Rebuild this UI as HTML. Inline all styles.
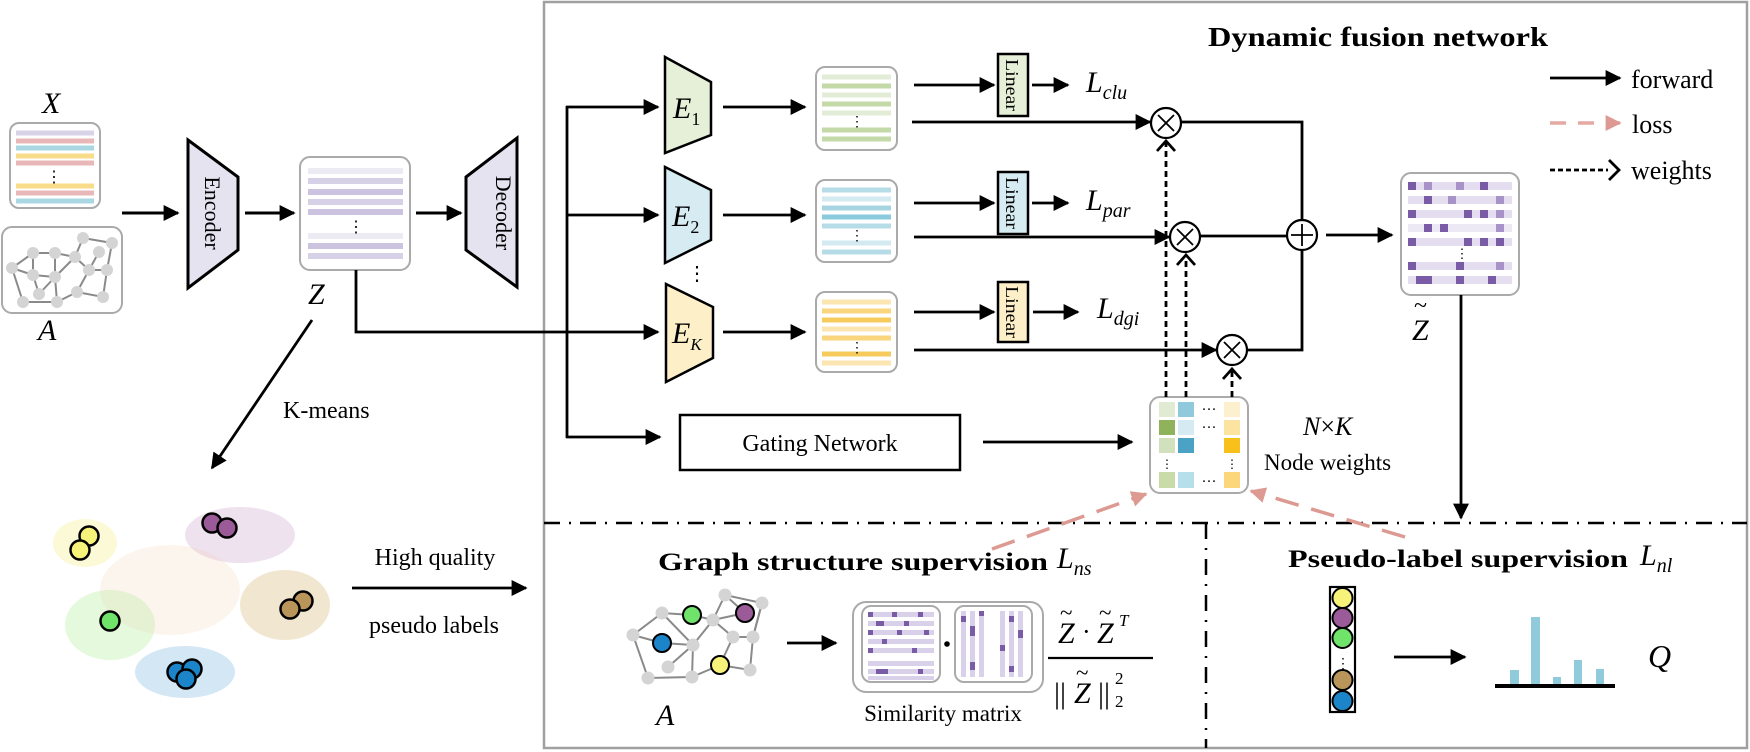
<!DOCTYPE html>
<html><head><meta charset="utf-8"><style>
html,body{margin:0;padding:0;background:#fff;}
svg{display:block;font-family:"Liberation Serif",serif;}
.it{font-style:italic;}
</style></head><body>
<svg width="1750" height="752" viewBox="0 0 1750 752" xmlns="http://www.w3.org/2000/svg">
<defs>
<marker id="a" viewBox="0 0 10 10" refX="9" refY="5" markerWidth="18" markerHeight="16" orient="auto" markerUnits="userSpaceOnUse"><path d="M0,0 L10,5 L0,10 z" fill="#000"/></marker>
<marker id="ap" viewBox="0 0 10 10" refX="9" refY="5" markerWidth="18" markerHeight="16" orient="auto" markerUnits="userSpaceOnUse"><path d="M0,0 L10,5 L0,10 z" fill="#dd9a93"/></marker>
</defs>

<rect x="544" y="2" width="1203" height="746" fill="none" stroke="#a0a0a0" stroke-width="2.5"/>
<line x1="544" y1="523" x2="1747" y2="523" stroke="#000" stroke-width="2.5" stroke-dasharray="16,9,2,9"/>
<line x1="1206" y1="523" x2="1206" y2="748" stroke="#000" stroke-width="2.5" stroke-dasharray="16,9,2,9"/>

<text x="42" y="113" font-size="30" class="it">X</text>
<rect x="10" y="123" width="90" height="85" rx="9" fill="#fff" stroke="#aaa" stroke-width="2"/>
<g stroke-width="5">
<line x1="16" y1="133" x2="94" y2="133" stroke="#d9d3e8"/>
<line x1="16" y1="141" x2="94" y2="141" stroke="#e8b8b8"/>
<line x1="16" y1="148" x2="94" y2="148" stroke="#a9d8e3"/>
<line x1="16" y1="156" x2="94" y2="156" stroke="#f9dc8a"/>
<line x1="16" y1="163" x2="94" y2="163" stroke="#e8b8b8"/>
<line x1="16" y1="186" x2="94" y2="186" stroke="#f9dc8a"/>
<line x1="16" y1="193" x2="94" y2="193" stroke="#e8b8b8"/>
<line x1="16" y1="201" x2="94" y2="201" stroke="#a9d8e3"/>
</g>
<text x="54" y="182" font-size="16" text-anchor="middle">⋮</text>

<rect x="2" y="227" width="120" height="86" rx="10" fill="#fff" stroke="#aaa" stroke-width="2"/>
<g stroke="#8a8a8a" stroke-width="2" fill="none">
<polyline points="12,268 33,253 55,253 75,257 83,238 112,243 107,270 103,297 77,292 57,302 23,302 12,268"/>
<line x1="33" y1="253" x2="33" y2="275"/><line x1="33" y1="275" x2="55" y2="277"/><line x1="55" y1="253" x2="55" y2="277"/>
<line x1="12" y1="268" x2="33" y2="275"/><line x1="75" y1="257" x2="55" y2="277"/><line x1="75" y1="257" x2="89" y2="270"/>
<line x1="89" y1="270" x2="107" y2="270"/><line x1="89" y1="270" x2="77" y2="292"/><line x1="55" y1="277" x2="39" y2="294"/>
<line x1="55" y1="277" x2="57" y2="302"/><line x1="99" y1="252" x2="89" y2="270"/><line x1="33" y1="275" x2="39" y2="294"/>
</g>
<g fill="#d4d4d4">
<circle cx="12" cy="268" r="6"/><circle cx="33" cy="253" r="6"/><circle cx="55" cy="253" r="6"/><circle cx="75" cy="257" r="6"/><circle cx="83" cy="238" r="6"/><circle cx="112" cy="243" r="6"/><circle cx="99" cy="252" r="6"/><circle cx="107" cy="270" r="6"/><circle cx="103" cy="297" r="6"/><circle cx="77" cy="292" r="6"/><circle cx="57" cy="302" r="6"/><circle cx="23" cy="302" r="6"/><circle cx="33" cy="275" r="6"/><circle cx="55" cy="277" r="6"/><circle cx="89" cy="270" r="6"/><circle cx="39" cy="294" r="6"/>
</g>
<text x="38" y="340" font-size="30" class="it">A</text>

<line x1="122" y1="213" x2="178" y2="213" stroke="#000" stroke-width="3" marker-end="url(#a)"/>
<polygon points="188,140 238,177 238,250 188,288" fill="#e6e3f1" stroke="#000" stroke-width="3"/>
<text transform="translate(205,213) rotate(90)" font-size="22" text-anchor="middle">Encoder</text>
<line x1="245" y1="213" x2="294" y2="213" stroke="#000" stroke-width="3" marker-end="url(#a)"/>
<rect x="300" y="157" width="110" height="113" rx="10" fill="#fff" stroke="#aaa" stroke-width="2"/>
<g stroke-width="6">
<line x1="308" y1="171" x2="403" y2="171" stroke="#ecebf3"/>
<line x1="308" y1="181" x2="403" y2="181" stroke="#d6d1e6"/>
<line x1="308" y1="192" x2="403" y2="192" stroke="#cbc3df"/>
<line x1="308" y1="202" x2="403" y2="202" stroke="#d6d1e6"/>
<line x1="308" y1="212" x2="403" y2="212" stroke="#cbc3df"/>
<line x1="308" y1="236" x2="403" y2="236" stroke="#ecebf3"/>
<line x1="308" y1="246" x2="403" y2="246" stroke="#cbc3df"/>
<line x1="308" y1="256" x2="403" y2="256" stroke="#d6d1e6"/>
</g>
<text x="356" y="232" font-size="16" text-anchor="middle">⋮</text>
<text x="308" y="304" font-size="30" class="it">Z</text>
<line x1="416" y1="213" x2="461" y2="213" stroke="#000" stroke-width="3" marker-end="url(#a)"/>
<polygon points="466,177 517,138 517,287 466,250" fill="#e6e3f1" stroke="#000" stroke-width="3"/>
<text transform="translate(496,213) rotate(90)" font-size="22" text-anchor="middle">Decoder</text>

<polyline points="356,270 356,332 658,332" fill="none" stroke="#000" stroke-width="2.8" marker-end="url(#a)"/>
<line x1="567" y1="106" x2="567" y2="438" stroke="#000" stroke-width="2.8"/>
<line x1="566" y1="107" x2="658" y2="107" stroke="#000" stroke-width="2.8" marker-end="url(#a)"/>
<line x1="567" y1="215" x2="658" y2="215" stroke="#000" stroke-width="2.8" marker-end="url(#a)"/>
<line x1="566" y1="437" x2="660" y2="437" stroke="#000" stroke-width="2.8" marker-end="url(#a)"/>

<polygon points="665,57 711,82 711,135 665,153" fill="#e6efd8" stroke="#000" stroke-width="2.5"/>
<text x="673" y="118" font-size="30" class="it">E<tspan font-size="18" dy="7" font-style="normal">1</tspan></text>
<polygon points="665,167 711,190 711,240 665,263" fill="#d7ebf3" stroke="#000" stroke-width="2.5"/>
<text x="672" y="226" font-size="30" class="it">E<tspan font-size="18" dy="7" font-style="normal">2</tspan></text>
<text x="697" y="280" font-size="20" text-anchor="middle">⋮</text>
<polygon points="666,284 713,307 713,358 666,382" fill="#fdf0c8" stroke="#000" stroke-width="2.5"/>
<text x="672" y="343" font-size="30" class="it">E<tspan font-size="17" dy="7">K</tspan></text>

<line x1="723" y1="107" x2="805" y2="107" stroke="#000" stroke-width="2.8" marker-end="url(#a)"/>
<line x1="723" y1="215" x2="805" y2="215" stroke="#000" stroke-width="2.8" marker-end="url(#a)"/>
<line x1="723" y1="332" x2="805" y2="332" stroke="#000" stroke-width="2.8" marker-end="url(#a)"/>

<rect x="816" y="67" width="81" height="83" rx="9" fill="#fff" stroke="#aaa" stroke-width="2"/>
<g stroke-width="5">
<line x1="822" y1="77" x2="891" y2="77" stroke="#e3ecd7"/><line x1="822" y1="86" x2="891" y2="86" stroke="#c4d9a8"/><line x1="822" y1="95" x2="891" y2="95" stroke="#e3ecd7"/><line x1="822" y1="104" x2="891" y2="104" stroke="#c4d9a8"/><line x1="822" y1="113" x2="891" y2="113" stroke="#e3ecd7"/><line x1="822" y1="130" x2="891" y2="130" stroke="#c4d9a8"/><line x1="822" y1="139" x2="891" y2="139" stroke="#c4d9a8"/>
</g>
<text x="857" y="126" font-size="14" text-anchor="middle">⋮</text>
<rect x="816" y="180" width="81" height="82" rx="9" fill="#fff" stroke="#aaa" stroke-width="2"/>
<g stroke-width="5">
<line x1="822" y1="190" x2="891" y2="190" stroke="#b5dce7"/><line x1="822" y1="199" x2="891" y2="199" stroke="#d3eaf1"/><line x1="822" y1="208" x2="891" y2="208" stroke="#a7d4e1"/><line x1="822" y1="217" x2="891" y2="217" stroke="#8ccade"/><line x1="822" y1="226" x2="891" y2="226" stroke="#b5dce7"/><line x1="822" y1="243" x2="891" y2="243" stroke="#d3eaf1"/><line x1="822" y1="252" x2="891" y2="252" stroke="#b5dce7"/>
</g>
<text x="857" y="240" font-size="14" text-anchor="middle">⋮</text>
<rect x="816" y="292" width="81" height="80" rx="9" fill="#fff" stroke="#aaa" stroke-width="2"/>
<g stroke-width="5">
<line x1="822" y1="302" x2="891" y2="302" stroke="#fbe6b1"/><line x1="822" y1="311" x2="891" y2="311" stroke="#f9d57d"/><line x1="822" y1="320" x2="891" y2="320" stroke="#f6cb5c"/><line x1="822" y1="329" x2="891" y2="329" stroke="#fbe6b1"/><line x1="822" y1="338" x2="891" y2="338" stroke="#f9d57d"/><line x1="822" y1="354" x2="891" y2="354" stroke="#f6cb5c"/><line x1="822" y1="363" x2="891" y2="363" stroke="#fbe6b1"/>
</g>
<text x="857" y="352" font-size="14" text-anchor="middle">⋮</text>

<!-- Linear -->
<line x1="914" y1="85" x2="994" y2="85" stroke="#000" stroke-width="2.8" marker-end="url(#a)"/>
<rect x="998" y="54" width="30" height="62" fill="#e6efd8" stroke="#000" stroke-width="2.5"/>
<text transform="translate(1006,85) rotate(90)" font-size="18" text-anchor="middle" textLength="52" lengthAdjust="spacingAndGlyphs">Linear</text>
<line x1="1032" y1="85" x2="1068" y2="85" stroke="#000" stroke-width="2.8" marker-end="url(#a)"/>
<text x="1086" y="92" font-size="30" class="it">L<tspan font-size="20" dy="7">clu</tspan></text>

<line x1="914" y1="203" x2="994" y2="203" stroke="#000" stroke-width="2.8" marker-end="url(#a)"/>
<rect x="998" y="172" width="30" height="62" fill="#d7ebf3" stroke="#000" stroke-width="2.5"/>
<text transform="translate(1006,203) rotate(90)" font-size="18" text-anchor="middle" textLength="52" lengthAdjust="spacingAndGlyphs">Linear</text>
<line x1="1032" y1="203" x2="1068" y2="203" stroke="#000" stroke-width="2.8" marker-end="url(#a)"/>
<text x="1086" y="210" font-size="30" class="it">L<tspan font-size="20" dy="7">par</tspan></text>

<line x1="914" y1="312" x2="994" y2="312" stroke="#000" stroke-width="2.8" marker-end="url(#a)"/>
<rect x="998" y="282" width="30" height="60" fill="#fdf0c8" stroke="#000" stroke-width="2.5"/>
<text transform="translate(1006,312) rotate(90)" font-size="18" text-anchor="middle" textLength="52" lengthAdjust="spacingAndGlyphs">Linear</text>
<line x1="1033" y1="312" x2="1078" y2="312" stroke="#000" stroke-width="2.8" marker-end="url(#a)"/>
<text x="1097" y="318" font-size="30" class="it">L<tspan font-size="20" dy="7">dgi</tspan></text>

<line x1="912" y1="122" x2="1150" y2="122" stroke="#000" stroke-width="2.8" marker-end="url(#a)"/>
<line x1="914" y1="237" x2="1169" y2="237" stroke="#000" stroke-width="2.8" marker-end="url(#a)"/>
<line x1="914" y1="350" x2="1216" y2="350" stroke="#000" stroke-width="2.8" marker-end="url(#a)"/>
<g fill="#fff" stroke="#000" stroke-width="2.2">
<circle cx="1166" cy="123" r="15"/><circle cx="1185" cy="237" r="15"/><circle cx="1232" cy="350" r="15"/><circle cx="1302" cy="235" r="15"/>
</g>
<g stroke="#000" stroke-width="1.8">
<line x1="1158" y1="115" x2="1174" y2="131"/><line x1="1174" y1="115" x2="1158" y2="131"/>
<line x1="1177" y1="229" x2="1193" y2="245"/><line x1="1193" y1="229" x2="1177" y2="245"/>
<line x1="1224" y1="342" x2="1240" y2="358"/><line x1="1240" y1="342" x2="1224" y2="358"/>
<line x1="1291" y1="235" x2="1313" y2="235"/><line x1="1302" y1="224" x2="1302" y2="246"/>
</g>
<polyline points="1181,122 1302,122 1302,220" fill="none" stroke="#000" stroke-width="2.8"/>
<polyline points="1247,350 1302,350 1302,250" fill="none" stroke="#000" stroke-width="2.8"/>
<line x1="1200" y1="236" x2="1287" y2="236" stroke="#000" stroke-width="2.8"/>
<line x1="1326" y1="235" x2="1392" y2="235" stroke="#000" stroke-width="2.8" marker-end="url(#a)"/>

<rect x="1401" y="173" width="118" height="122" rx="10" fill="#fff" stroke="#aaa" stroke-width="2"/>
<g>
<rect x="1408" y="182" width="104" height="8" fill="#e4def0"/><rect x="1408" y="182" width="8" height="8" fill="#7a5ca6"/><rect x="1424" y="182" width="8" height="8" fill="#a893c8"/><rect x="1456" y="182" width="8" height="8" fill="#a893c8"/><rect x="1480" y="182" width="8" height="8" fill="#7a5ca6"/>
<rect x="1408" y="196" width="104" height="8" fill="#e4def0"/><rect x="1424" y="196" width="8" height="8" fill="#7a5ca6"/><rect x="1448" y="196" width="8" height="8" fill="#a893c8"/><rect x="1496" y="196" width="8" height="8" fill="#a893c8"/>
<rect x="1408" y="210" width="104" height="8" fill="#e4def0"/><rect x="1408" y="210" width="8" height="8" fill="#7a5ca6"/><rect x="1464" y="210" width="8" height="8" fill="#7a5ca6"/><rect x="1480" y="210" width="8" height="8" fill="#7a5ca6"/><rect x="1496" y="210" width="8" height="8" fill="#a893c8"/>
<rect x="1408" y="224" width="104" height="8" fill="#ece8f4"/><rect x="1424" y="224" width="8" height="8" fill="#7a5ca6"/><rect x="1440" y="224" width="8" height="8" fill="#7a5ca6"/><rect x="1496" y="224" width="8" height="8" fill="#a893c8"/>
<rect x="1408" y="238" width="104" height="8" fill="#e4def0"/><rect x="1408" y="238" width="8" height="8" fill="#7a5ca6"/><rect x="1464" y="238" width="8" height="8" fill="#7a5ca6"/><rect x="1480" y="238" width="8" height="8" fill="#7a5ca6"/><rect x="1496" y="238" width="8" height="8" fill="#7a5ca6"/>
<rect x="1408" y="262" width="104" height="8" fill="#e4def0"/><rect x="1408" y="262" width="8" height="8" fill="#7a5ca6"/><rect x="1456" y="262" width="8" height="8" fill="#7a5ca6"/><rect x="1496" y="262" width="8" height="8" fill="#a893c8"/>
<rect x="1408" y="276" width="104" height="8" fill="#e4def0"/><rect x="1416" y="276" width="16" height="8" fill="#7a5ca6"/><rect x="1456" y="276" width="8" height="8" fill="#7a5ca6"/><rect x="1488" y="276" width="8" height="8" fill="#7a5ca6"/>
</g>
<text x="1462" y="258" font-size="13" text-anchor="middle">⋮</text>
<text x="1412" y="340" font-size="30" class="it">Z</text>
<text x="1414" y="313" font-size="24">~</text>
<line x1="1461" y1="295" x2="1461" y2="518" stroke="#000" stroke-width="2.8" marker-end="url(#a)"/>

<rect x="680" y="415" width="280" height="55" fill="#fff" stroke="#000" stroke-width="2.5"/>
<text x="820" y="451" font-size="24" text-anchor="middle">Gating Network</text>
<line x1="983" y1="442" x2="1132" y2="442" stroke="#000" stroke-width="2.8" marker-end="url(#a)"/>

<rect x="1150" y="397" width="98" height="96" rx="10" fill="#fff" stroke="#aaa" stroke-width="2"/>
<rect x="1159" y="402" width="16" height="15" fill="#e1ebd3"/><rect x="1178" y="402" width="16" height="15" fill="#8fc9db"/><rect x="1224" y="402" width="16" height="15" fill="#fdf0cf"/>
<rect x="1159" y="420" width="16" height="15" fill="#8fb35c"/><rect x="1178" y="420" width="16" height="15" fill="#d5eaf2"/><rect x="1224" y="420" width="16" height="15" fill="#fde3a0"/>
<rect x="1159" y="438" width="16" height="15" fill="#d2e1bd"/><rect x="1178" y="438" width="16" height="15" fill="#4aa3c4"/><rect x="1224" y="438" width="16" height="15" fill="#f9bf1a"/>
<rect x="1159" y="472" width="16" height="16" fill="#c8dba9"/><rect x="1178" y="472" width="16" height="16" fill="#b7dfeb"/><rect x="1224" y="472" width="16" height="16" fill="#fbd779"/>
<text x="1209" y="414" font-size="15" text-anchor="middle">···</text>
<text x="1209" y="432" font-size="15" text-anchor="middle">···</text>
<text x="1209" y="486" font-size="15" text-anchor="middle">···</text>
<text x="1167" y="468" font-size="12" text-anchor="middle">⋮</text>
<text x="1232" y="468" font-size="12" text-anchor="middle">⋮</text>
<text x="1303" y="435" font-size="26" class="it">N<tspan font-style="normal">×</tspan>K</text>
<text x="1264" y="470" font-size="23">Node weights</text>

<g stroke="#000" stroke-width="2.8" stroke-dasharray="6,4" fill="none">
<line x1="1166" y1="397" x2="1166" y2="142"/>
<line x1="1186" y1="397" x2="1186" y2="256"/>
<line x1="1232" y1="397" x2="1232" y2="370"/>
</g>
<g stroke="#000" stroke-width="2.8" fill="none">
<polyline points="1157,151 1166,141 1175,151"/>
<polyline points="1177,265 1186,255 1195,265"/>
<polyline points="1223,379 1232,369 1241,379"/>
</g>

<line x1="992" y1="549" x2="1146" y2="494" stroke="#dd9a93" stroke-width="3.5" stroke-dasharray="24,13" marker-end="url(#ap)"/>
<line x1="1405" y1="537" x2="1251" y2="491" stroke="#dd9a93" stroke-width="3.5" stroke-dasharray="24,13" marker-end="url(#ap)"/>

<text x="1378" y="46" font-size="27" font-weight="bold" text-anchor="middle" textLength="340" lengthAdjust="spacingAndGlyphs">Dynamic fusion network</text>
<line x1="1550" y1="78" x2="1620" y2="78" stroke="#000" stroke-width="2.8" marker-end="url(#a)"/>
<text x="1631" y="88" font-size="26">forward</text>
<line x1="1550" y1="123" x2="1620" y2="123" stroke="#e5a9a2" stroke-width="3.5" stroke-dasharray="16,12" marker-end="url(#ap)"/>
<text x="1632" y="133" font-size="26">loss</text>
<line x1="1550" y1="170" x2="1608" y2="170" stroke="#000" stroke-width="2.8" stroke-dasharray="5,3"/>
<polyline points="1609,160 1619,170 1609,180" fill="none" stroke="#000" stroke-width="2.8"/>
<text x="1631" y="179" font-size="26">weights</text>

<line x1="312" y1="320" x2="212" y2="468" stroke="#000" stroke-width="2.8" marker-end="url(#a)"/>
<text x="283" y="418" font-size="24">K-means</text>

<g>
<ellipse cx="85" cy="543" rx="32" ry="24" fill="#f6f08a" opacity="0.35"/>
<ellipse cx="240" cy="535" rx="55" ry="28" fill="#c9a0c9" opacity="0.3"/>
<ellipse cx="285" cy="605" rx="45" ry="35" fill="#d8bb7a" opacity="0.35"/>
<ellipse cx="110" cy="625" rx="45" ry="35" fill="#a8ea90" opacity="0.3"/>
<ellipse cx="185" cy="672" rx="50" ry="26" fill="#6fb0de" opacity="0.3"/>
<ellipse cx="170" cy="590" rx="70" ry="45" fill="#f0c8a0" opacity="0.18"/>
</g>
<g stroke="#000" stroke-width="2.5">
<circle cx="89" cy="536" r="9.5" fill="#f7f27a"/><circle cx="80" cy="550" r="9.5" fill="#f7f27a"/>
<circle cx="212" cy="523" r="9.5" fill="#9a5b98"/><circle cx="227" cy="528" r="9.5" fill="#9a5b98"/>
<circle cx="303" cy="601" r="9.5" fill="#b9955a"/><circle cx="290" cy="609" r="9.5" fill="#b9955a"/>
<circle cx="110" cy="621" r="9.5" fill="#6fe36a"/>
<circle cx="177" cy="672" r="9.5" fill="#1c84c9"/><circle cx="192" cy="669" r="9.5" fill="#1c84c9"/><circle cx="186" cy="679" r="9.5" fill="#1c84c9"/>
</g>

<text x="435" y="565" font-size="24" text-anchor="middle">High quality</text>
<line x1="352" y1="588" x2="526" y2="588" stroke="#000" stroke-width="2.8" marker-end="url(#a)"/>
<text x="434" y="633" font-size="24" text-anchor="middle">pseudo labels</text>

<text x="658" y="570" font-size="25" font-weight="bold" textLength="390" lengthAdjust="spacingAndGlyphs">Graph structure supervision</text>
<text x="1057" y="568" font-size="30" class="it">L<tspan font-size="20" dy="7">ns</tspan></text>
<g stroke="#8a8a8a" stroke-width="2" fill="none">
<polyline points="633,635 662,613 692,615 713,620 725,595 762,603 753,637 750,670 720,665 692,677 648,678 633,635"/>
<line x1="662" y1="643" x2="633" y2="635"/><line x1="662" y1="643" x2="693" y2="645"/><line x1="693" y1="645" x2="668" y2="667"/>
<line x1="693" y1="645" x2="662" y2="613"/><line x1="693" y1="645" x2="692" y2="677"/><line x1="693" y1="645" x2="713" y2="620"/>
<line x1="713" y1="620" x2="745" y2="613"/><line x1="745" y1="613" x2="725" y2="595"/><line x1="733" y1="637" x2="753" y2="637"/>
<line x1="733" y1="637" x2="713" y2="620"/><line x1="733" y1="637" x2="720" y2="665"/><line x1="762" y1="603" x2="753" y2="637"/>
</g>
<g fill="#d4d4d4">
<circle cx="633" cy="635" r="6.5"/><circle cx="662" cy="613" r="6.5"/><circle cx="693" cy="645" r="6.5"/><circle cx="725" cy="595" r="6.5"/><circle cx="762" cy="603" r="6.5"/><circle cx="713" cy="620" r="6.5"/><circle cx="733" cy="637" r="6.5"/><circle cx="753" cy="637" r="6.5"/><circle cx="668" cy="667" r="6.5"/><circle cx="648" cy="678" r="6.5"/><circle cx="692" cy="677" r="6.5"/><circle cx="750" cy="670" r="6.5"/>
</g>
<g stroke="#000" stroke-width="2">
<circle cx="692" cy="615" r="9" fill="#6fe36a"/><circle cx="745" cy="613" r="9" fill="#9a5b98"/><circle cx="662" cy="643" r="9" fill="#1c84c9"/><circle cx="720" cy="665" r="9" fill="#f7f27a"/>
</g>
<text x="656" y="725" font-size="30" class="it">A</text>
<line x1="787" y1="643" x2="836" y2="643" stroke="#000" stroke-width="2.8" marker-end="url(#a)"/>
<rect x="853" y="602" width="190" height="90" rx="13" fill="#fff" stroke="#aaa" stroke-width="2"/>
<rect x="862" y="606" width="78" height="76" rx="9" fill="#fff" stroke="#aaa" stroke-width="2"/>
<rect x="955" y="606" width="77" height="76" rx="9" fill="#fff" stroke="#aaa" stroke-width="2"/>
<g fill="#d9d1ea">
<rect x="868" y="612" width="66" height="5"/><rect x="868" y="621" width="66" height="5"/><rect x="868" y="630" width="66" height="5"/><rect x="868" y="639" width="66" height="5"/><rect x="868" y="648" width="66" height="5"/><rect x="868" y="661" width="66" height="5"/><rect x="868" y="669" width="66" height="5"/><rect x="868" y="676" width="66" height="4"/>
<rect x="961" y="611" width="5" height="66"/><rect x="970" y="611" width="5" height="66"/><rect x="979" y="611" width="5" height="66"/><rect x="1000" y="611" width="5" height="66"/><rect x="1009" y="611" width="5" height="66"/><rect x="1018" y="611" width="5" height="66"/>
</g>
<g fill="#7a5ca6">
<rect x="868" y="612" width="5" height="5"/><rect x="892" y="612" width="5" height="5"/><rect x="918" y="612" width="5" height="5"/><rect x="876" y="621" width="8" height="5"/><rect x="904" y="621" width="5" height="5"/><rect x="868" y="630" width="5" height="5"/><rect x="897" y="630" width="5" height="5"/><rect x="924" y="630" width="5" height="5"/><rect x="882" y="639" width="5" height="5"/><rect x="868" y="648" width="5" height="5"/><rect x="912" y="648" width="5" height="5"/><rect x="876" y="669" width="12" height="5"/><rect x="918" y="669" width="5" height="5"/>
<rect x="961" y="616" width="5" height="6"/><rect x="970" y="626" width="5" height="10"/><rect x="979" y="611" width="5" height="5"/><rect x="1000" y="645" width="5" height="6"/><rect x="1009" y="616" width="5" height="6"/><rect x="1018" y="630" width="5" height="8"/><rect x="970" y="662" width="5" height="8"/><rect x="1009" y="666" width="5" height="6"/>
</g>
<circle cx="947" cy="644" r="2.8" fill="#000"/>
<text x="943" y="721" font-size="23" text-anchor="middle">Similarity matrix</text>
<text x="1058" y="643" font-size="30" class="it">Z</text><text x="1060" y="620" font-size="23">~</text>
<text x="1082" y="640" font-size="26">·</text>
<text x="1097" y="643" font-size="30" class="it">Z</text><text x="1099" y="620" font-size="23">~</text>
<text x="1119" y="626" font-size="17" class="it">T</text>
<line x1="1048" y1="658" x2="1153" y2="658" stroke="#000" stroke-width="2.2"/>
<text x="1054" y="703" font-size="30">||</text>
<text x="1074" y="703" font-size="30" class="it">Z</text><text x="1076" y="680" font-size="23">~</text>
<text x="1098" y="703" font-size="30">||</text>
<text x="1115" y="684" font-size="17">2</text><text x="1115" y="707" font-size="17">2</text>

<text x="1288" y="567" font-size="25" font-weight="bold" textLength="340" lengthAdjust="spacingAndGlyphs">Pseudo-label supervision</text>
<text x="1640" y="565" font-size="30" class="it">L<tspan font-size="20" dy="7">nl</tspan></text>
<rect x="1330" y="587" width="25" height="125" fill="#fff" stroke="#000" stroke-width="2.2"/>
<g stroke="#000" stroke-width="2">
<circle cx="1342.5" cy="598" r="10" fill="#f7f27a"/><circle cx="1342.5" cy="618" r="10" fill="#9a5b98"/><circle cx="1342.5" cy="638" r="10" fill="#6fe36a"/><circle cx="1342.5" cy="680" r="10" fill="#b9955a"/><circle cx="1342.5" cy="701" r="10" fill="#1c84c9"/>
</g>
<text x="1343" y="668" font-size="14" text-anchor="middle">⋮</text>
<line x1="1394" y1="657" x2="1465" y2="657" stroke="#000" stroke-width="2.8" marker-end="url(#a)"/>
<g fill="#8fcbdb">
<rect x="1510" y="670" width="9" height="15"/><rect x="1531" y="617" width="9" height="68"/><rect x="1553" y="677" width="8" height="8"/><rect x="1574" y="660" width="8" height="25"/><rect x="1596" y="669" width="8" height="16"/>
</g>
<line x1="1495" y1="686" x2="1615" y2="686" stroke="#000" stroke-width="4"/>
<text x="1648" y="667" font-size="32" class="it">Q</text>
</svg>
</body></html>
